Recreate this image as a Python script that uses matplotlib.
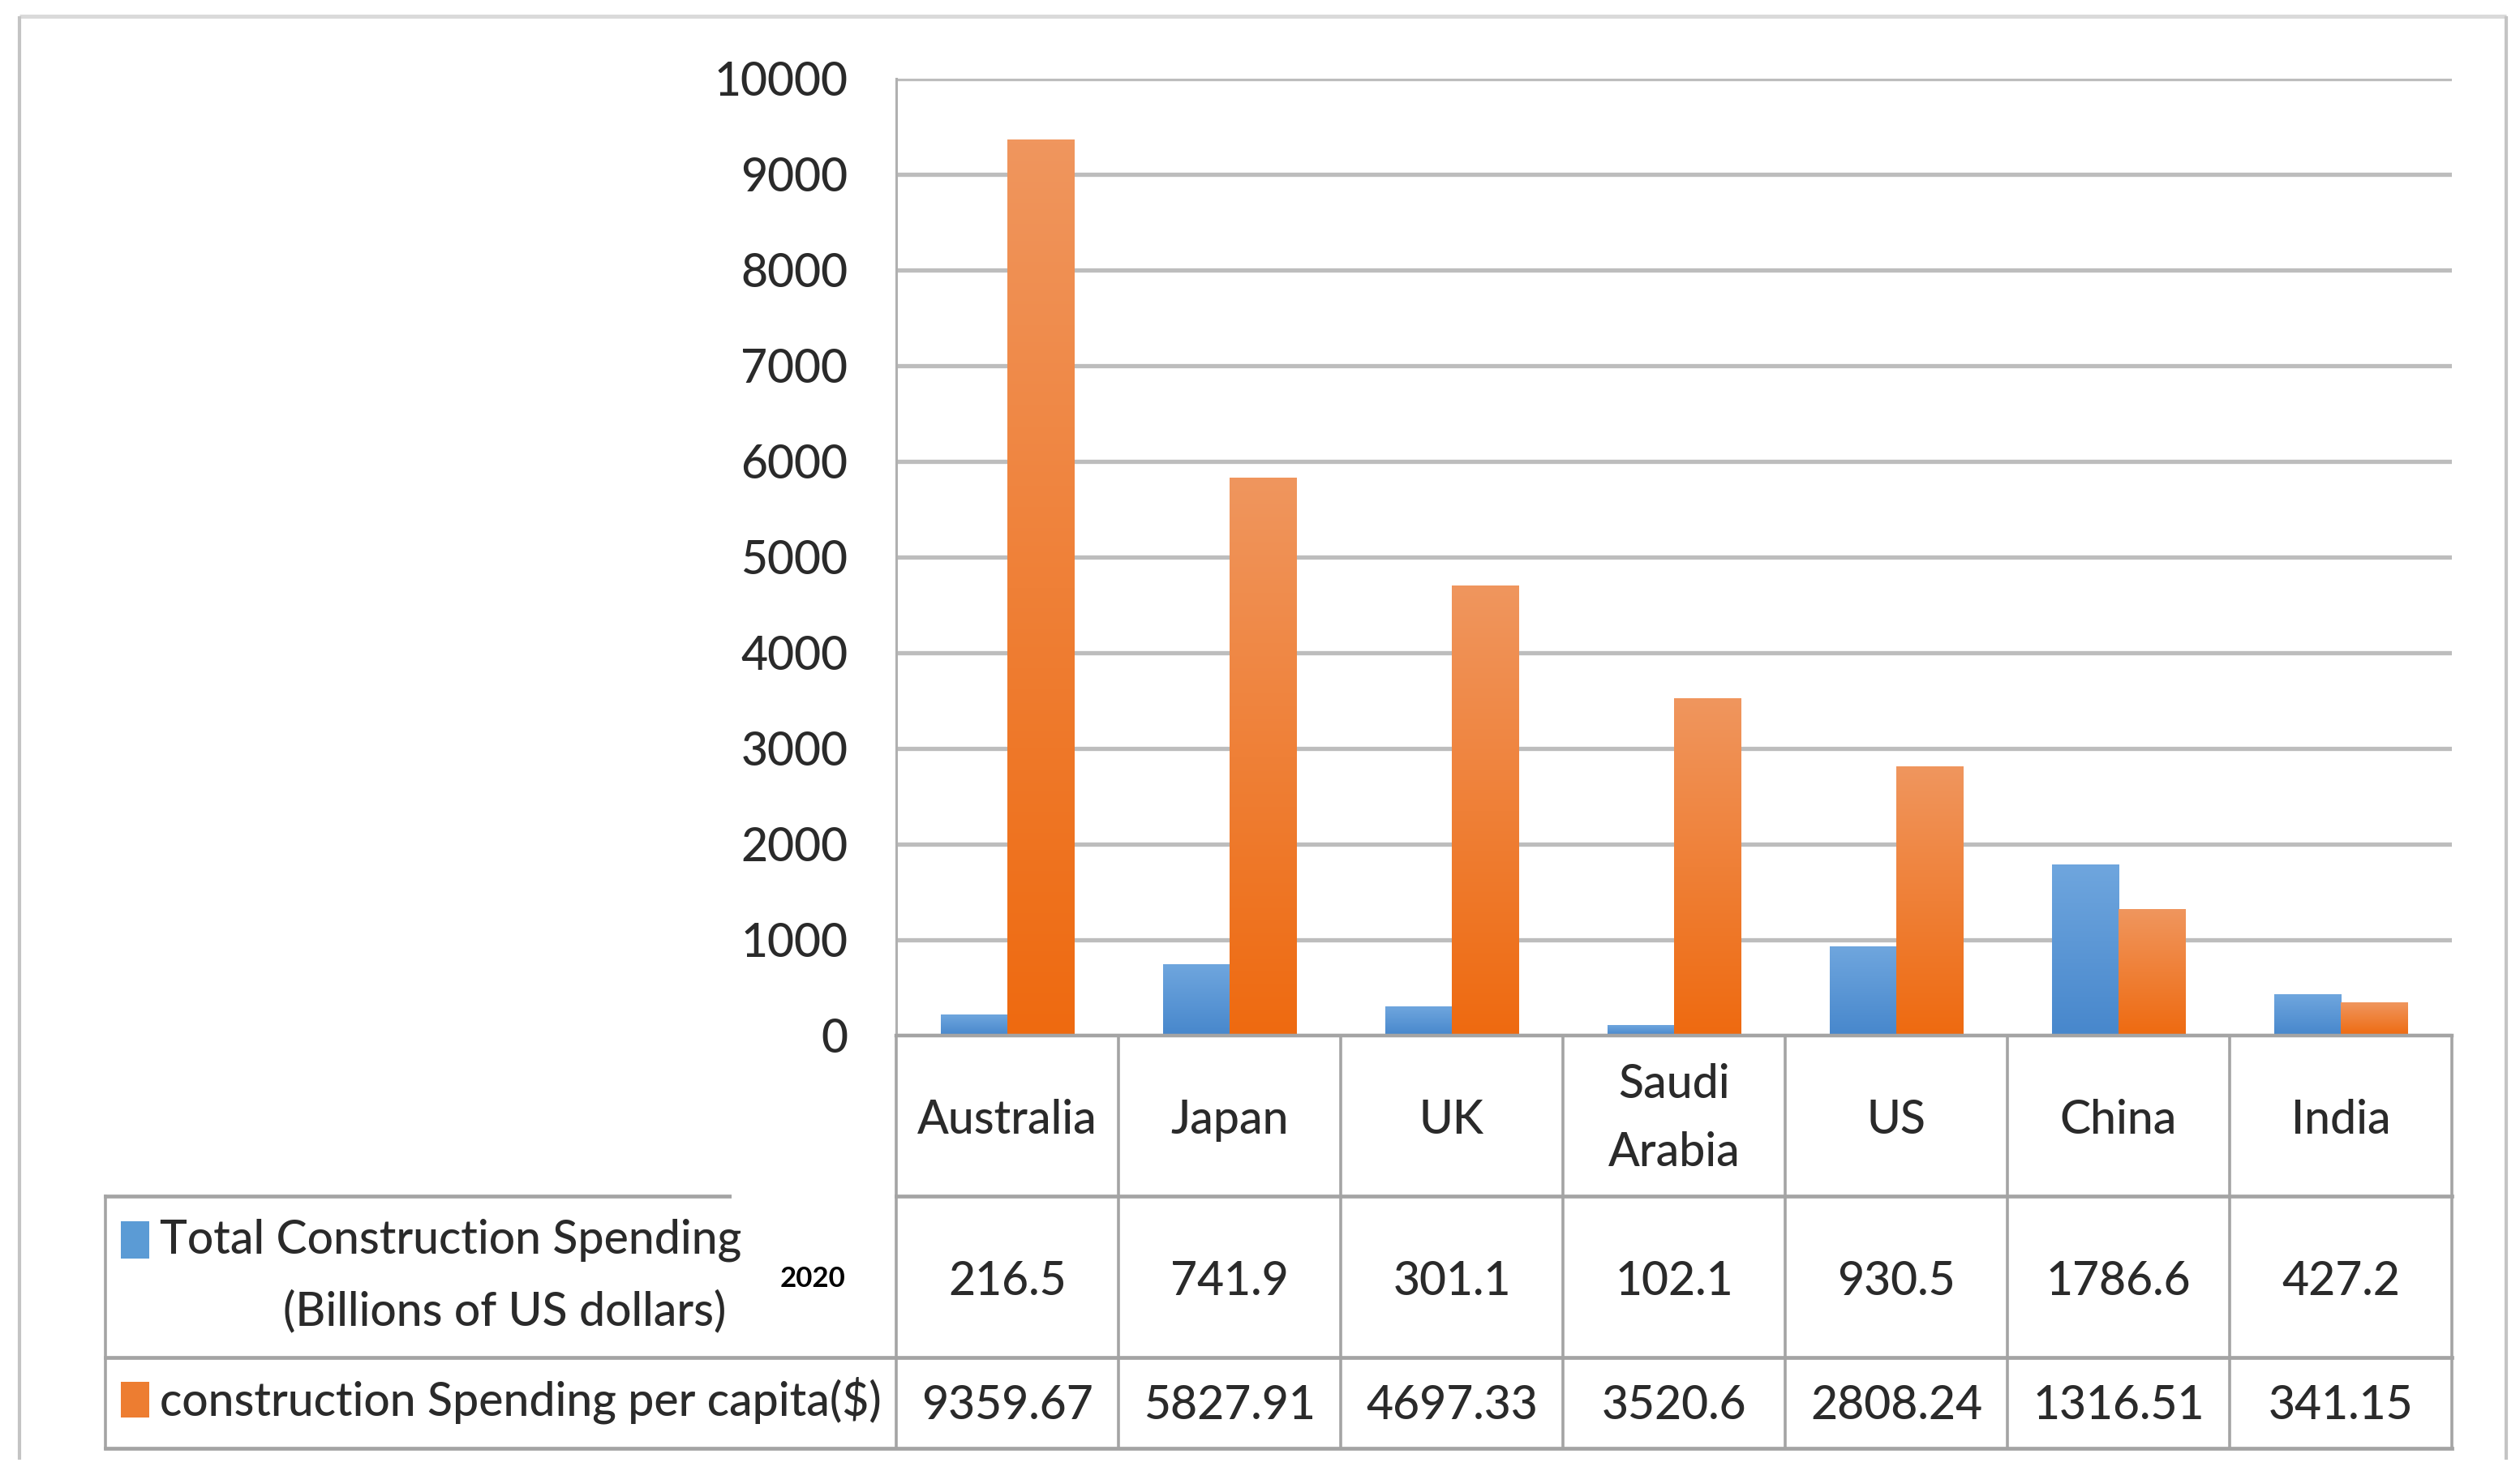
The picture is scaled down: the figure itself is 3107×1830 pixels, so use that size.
import numpy as np
import matplotlib
matplotlib.use("Agg")
import matplotlib.pyplot as plt
from matplotlib import transforms
from matplotlib.colors import LinearSegmentedColormap
from matplotlib.patches import Rectangle

#------------data----------------------#
countries = ["Australia", "Japan", "UK", "Saudi\nArabia", "US", "China", "India"]
total_spending = [216.5, 741.9, 301.1, 102.1, 930.5, 1786.6, 427.2]
per_capita = [9359.67, 5827.91, 4697.33, 3520.6, 2808.24, 1316.51, 341.15]
total_labels = ["216.5", "741.9", "301.1", "102.1", "930.5", "1786.6", "427.2"]
capita_labels = ["9359.67", "5827.91", "4697.33", "3520.6", "2808.24", "1316.51", "341.15"]
row1_name = "Total Construction Spending"
row1_unit = "(Billions of US dollars)"
row2_name = "construction Spending per capita($)"
year_note = "2020"
yticks = list(range(0, 10001, 1000))

#------------layout (pixels)-----------#
W, H = 3107, 1830
AX_L, AX_R, AX_T, AX_B = 1105, 3023, 97, 1277
TAB_L = 130
ROW_Y = [1277, 1475, 1674, 1786]
TXT = "#2a2a2a"
GRID = "#bdbdbd"
LINE = "#a4a4a4"
FS = 41
WT = "medium"

plt.rcParams["font.family"] = ["Lato", "DejaVu Sans"]
plt.rcParams["font.weight"] = WT

fig = plt.figure(figsize=(W / 100, H / 100), dpi=100)
ax = fig.add_axes([AX_L / W, 1 - AX_B / H, (AX_R - AX_L) / W, (AX_B - AX_T) / H])
ov = fig.add_axes([0, 0, 1, 1])
ov.set_xlim(0, W)
ov.set_ylim(H, 0)
ov.axis("off")

#------------bars----------------------#
x = np.arange(len(countries))
w = 0.3
b1 = ax.bar(x - w / 2, total_spending, w, color="#5B9BD5", zorder=2)
b2 = ax.bar(x + w / 2, per_capita, w, color="#ED7D31", zorder=2)

grad = np.linspace(0, 1, 256).reshape(-1, 1)
cm_blue = LinearSegmentedColormap.from_list("b", ["#4787cc", "#6fa6de"])
cm_orng = LinearSegmentedColormap.from_list("o", ["#ee6a10", "#f0965e"])
for bars, cm in ((b1, cm_blue), (b2, cm_orng)):
    for p in bars:
        bb = p.get_bbox()
        ax.imshow(grad, extent=[bb.x0, bb.x1, bb.y0, bb.y1], origin="lower",
                  cmap=cm, aspect="auto", zorder=2.1)

ax.set_xlim(-0.5, len(countries) - 0.5)
ax.set_ylim(0, 10000)
ax.set_yticks(yticks)
ax.set_xticks([])
ax.grid(axis="y", color=GRID, lw=3.8)
ax.set_axisbelow(True)
ax.tick_params(axis="y", length=0, pad=43, labelsize=FS, labelcolor=TXT)
for s in ("top", "right"):
    ax.spines[s].set_visible(False)
ax.spines["left"].set_color("#b0b0b0")
ax.spines["left"].set_linewidth(2.2)
ax.spines["bottom"].set_color(LINE)
ax.spines["bottom"].set_linewidth(3.2)

#------------outer frame---------------#
ov.plot([24, 3090], [20, 20], color="#dadada", lw=3.6, solid_capstyle="butt")
ov.plot([24, 24], [20, 1800], color="#c4c4c4", lw=3.0, solid_capstyle="butt")
ov.plot([3090, 3090], [20, 1800], color="#c4c4c4", lw=3.0, solid_capstyle="butt")

#------------table---------------------#
cw = (AX_R - AX_L) / len(countries)
for k in range(len(countries) + 1):
    ov.plot([AX_L + k * cw] * 2, [ROW_Y[0], ROW_Y[3]], color=LINE, lw=2.6)
for yy in ROW_Y[1:]:
    ov.plot([TAB_L, AX_R], [yy, yy], color=LINE, lw=3.4)
ov.plot([TAB_L, TAB_L], [ROW_Y[1], ROW_Y[3]], color=LINE, lw=2.6)
# pasted white box with the year
ov.add_patch(Rectangle((902, 1466), 201, 202, facecolor="white", edgecolor="none", zorder=3))
ov.text(1002, 1587, year_note, ha="center", va="baseline", fontsize=25,
        fontweight="bold", color="black", zorder=4)

# legend keys + row names
ov.add_patch(Rectangle((149, 1506), 35, 46, facecolor="#5B9BD5", edgecolor="none"))
ov.add_patch(Rectangle((149, 1704), 35, 44, facecolor="#ED7D31", edgecolor="none"))
ov.text(197, 1546, row1_name, ha="left", va="baseline", fontsize=FS, color=TXT, zorder=4)
ov.text(895, 1634, row1_unit, ha="right", va="baseline", fontsize=FS, color=TXT, zorder=4)
ov.text(197, 1746, row2_name, ha="left", va="baseline", fontsize=FS, color=TXT)

# category names and values, x from the bar axes
tr = transforms.blended_transform_factory(ax.transData, ov.transData)
for i, name in enumerate(countries):
    if "\n" in name:
        a, b = name.split("\n")
        ax.text(i, 1354, a, transform=tr, ha="center", va="baseline", fontsize=FS,
                color=TXT, clip_on=False)
        ax.text(i, 1438, b, transform=tr, ha="center", va="baseline", fontsize=FS,
                color=TXT, clip_on=False)
    else:
        ax.text(i, 1398, name, transform=tr, ha="center", va="baseline", fontsize=FS,
                color=TXT, clip_on=False)
    ax.text(i, 1597, total_labels[i], transform=tr, ha="center", va="baseline",
            fontsize=FS, color=TXT, clip_on=False)
    ax.text(i, 1750, capita_labels[i], transform=tr, ha="center", va="baseline",
            fontsize=FS, color=TXT, clip_on=False)

fig.savefig("out.png", dpi=100, facecolor="white")
